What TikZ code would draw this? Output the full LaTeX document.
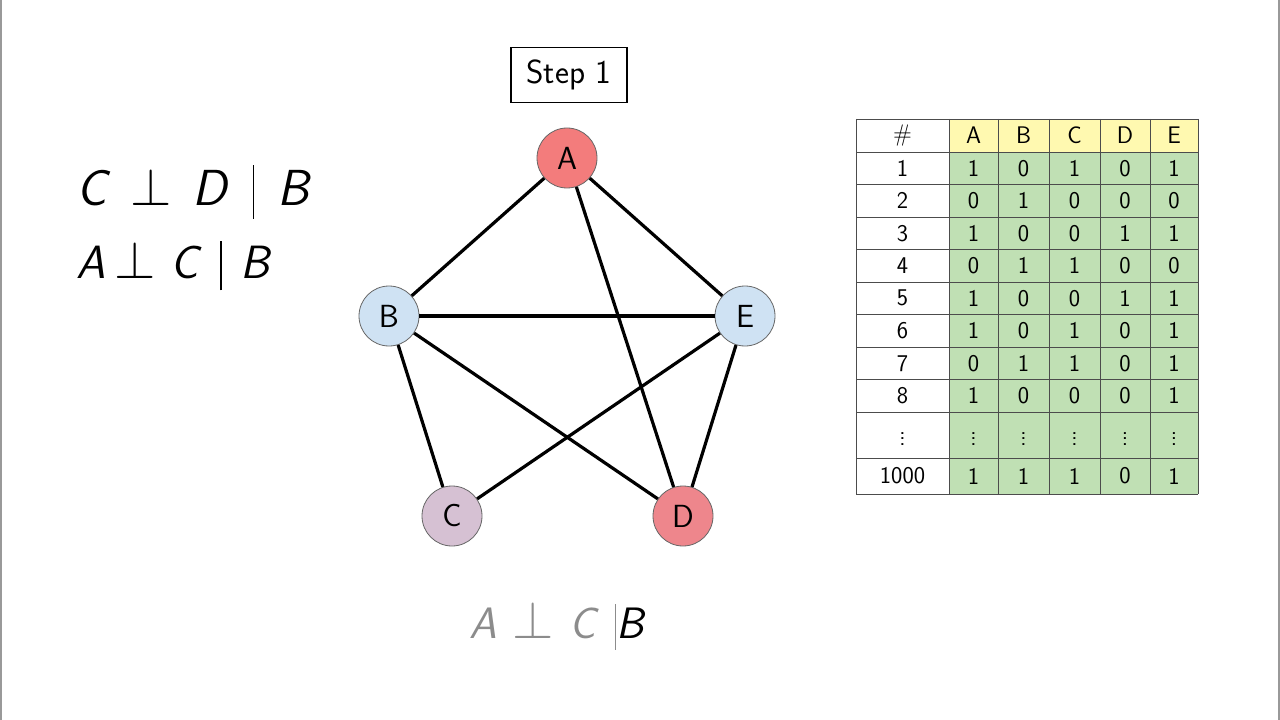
\documentclass[tikz,border=0pt]{standalone}
\usepackage{amssymb,graphicx}
\renewcommand{\familydefault}{\sfdefault}
\definecolor{cA}{RGB}{243,124,124}
\definecolor{cB}{RGB}{207,226,243}
\definecolor{cC}{RGB}{214,193,211}
\definecolor{cD}{RGB}{238,134,140}
\definecolor{cG}{RGB}{192,224,180}
\definecolor{cY}{RGB}{255,249,176}
\newcommand{\myperp}{\scalebox{1.6}{$\perp$}}
\newcommand{\mybar}{\raisebox{-0.25em}{\rule{0.035em}{1.05em}}}
\begin{document}
\begin{tikzpicture}[x=0.75pt,y=-0.75pt,
 vtx/.style={circle,draw=black!60,line width=0.6pt,minimum size=45pt,inner sep=0pt,font=\fontsize{24}{26}\selectfont},
 edge/.style={line width=2.4pt},
 cell/.style={font=\fontsize{18}{20}\selectfont}]
\useasboundingbox (0,0) rectangle (1280,720);
\draw[black!40,line width=1pt] (1,0)--(1,720) (1279,0)--(1279,720);
\node[draw,line width=1pt,minimum width=87pt,minimum height=41pt,font=\fontsize{25}{27}\selectfont] (step) at (569,75) {Step 1};
\node[vtx,fill=cA] (A) at (567,158) {A};
\node[vtx,fill=cB] (B) at (389,316) {B};
\node[vtx,fill=cB] (E) at (745,316) {E};
\node[vtx,fill=cC] (C) at (452,516) {C};
\node[vtx,fill=cD] (D) at (683,516) {D};
\foreach \u/\v in {A/B,A/E,A/D,B/E,B/C,B/D,E/C,E/D} \draw[edge] (\u)--(\v);
\node[anchor=west,font=\fontsize{38}{40}\selectfont,inner sep=0pt] (l1) at (76,192) {\textit{C}\hspace{0.4em}\myperp\hspace{0.4em}\textit{D}\hspace{0.45em}\mybar\hspace{0.45em}\textit{B}};
\node[anchor=west,font=\fontsize{35}{38}\selectfont,inner sep=0pt] (l2) at (76,266) {\textit{A}\hspace{0.2em}\myperp\hspace{0.3em}\textit{C}\hspace{0.4em}\mybar\hspace{0.4em}\textit{B}};
\node[font=\fontsize{33}{36}\selectfont] (bot) at (558,626) {\textcolor{black!45}{\textit{A}\hspace{0.35em}\myperp\hspace{0.35em}\textit{C}\hspace{0.35em}\mybar}\textit{B}};
% table
\def\xs{{856,949,998,1049,1100,1150,1198}}
\fill[cY] (949,119) rectangle (1198,152);
\fill[cG] (949,152) rectangle (1198,494);
\foreach \y in {119,152,184.5,217,249.5,282,314.5,347,379.5,412,458,494} \draw[black!70,line width=0.6pt] (856,\y)--(1198,\y);
\foreach \x in {856,949,998,1049,1100,1150,1198} \draw[black!70,line width=0.6pt] (\x,119)--(\x,494);
\foreach \t [count=\i] in {\#,A,B,C,D,E}{
  \pgfmathsetmacro\xa{\xs[\i-1]}\pgfmathsetmacro\xb{\xs[\i]}
  \node[cell] at ({(\xa+\xb)/2},135.5) {\t};}
\foreach \r [count=\j] in {{1,1,0,1,0,1},{2,0,1,0,0,0},{3,1,0,0,1,1},{4,0,1,1,0,0},{5,1,0,0,1,1},{6,1,0,1,0,1},{7,0,1,1,0,1},{8,1,0,0,0,1},{$\vdots$,$\vdots$,$\vdots$,$\vdots$,$\vdots$,$\vdots$},{1000,1,1,1,0,1}}{
  \pgfmathsetmacro\yc{\j<9 ? 152+32.5*(\j-0.5) : (\j==9 ? 435 : 476)}
  \foreach \t [count=\i] in \r {
    \pgfmathsetmacro\xa{\xs[\i-1]}\pgfmathsetmacro\xb{\xs[\i]}
    \node[cell,inner sep=1pt] at ({(\xa+\xb)/2},\yc) {\t};}}
\end{tikzpicture}
\end{document}
